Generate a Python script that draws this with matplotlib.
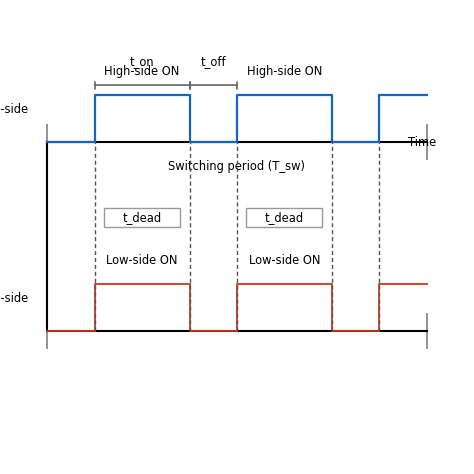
import numpy as np
import matplotlib
matplotlib.use("Agg")
import matplotlib.pyplot as plt
from matplotlib.patches import Rectangle

# switching instants (time units) and signal levels
edges = [0, 1, 3, 4, 6, 7, 8]
states = [0, 1, 0, 1, 0, 1]          # state in each interval
hs_base, hs_high = 4, 5               # high-side trace levels
ls_base, ls_high = 0, 1               # low-side trace levels
dashed_t = [1, 3, 4, 6, 7]
dead_centers = [2, 5]
on_centers = [2, 5]

hs_color = '#1565C0'
ls_color = '#C8371C'
fs = 8.3

fig = plt.figure(figsize=(4.74, 4.74), dpi=100)
ax = fig.add_axes([0, 0, 1, 1])
ax.set_xlim(-0.99, 8.99)
ax.set_ylim(-3.03, 7.0)
ax.axis('off')

t0, t1 = edges[0], edges[-1]

# gray end bars of the two time axes
for lev in [hs_base, ls_base]:
    ax.vlines([t0, t1], lev - 0.38, lev + 0.38, color='gray', lw=1.2, zorder=1)

# black axes
ax.plot([t0, t1], [hs_base, hs_base], color='black', lw=1.5, zorder=2)
ax.plot([t0, t1], [ls_base, ls_base], color='black', lw=1.5, zorder=2)
ax.plot([t0, t0], [ls_base, hs_base], color='black', lw=1.5, zorder=2)

# step signals
xs, hs, ls = [], [], []
for i, s in enumerate(states):
    xs += [edges[i], edges[i + 1]]
    hs += [hs_high if s else hs_base] * 2
    ls += [ls_high if s else ls_base] * 2
ax.plot(xs, hs, color=hs_color, lw=1.6, zorder=3)
ax.plot(xs, ls, color=ls_color, lw=1.3, zorder=3)

# dashed switching markers
ax.vlines(dashed_t, ls_base, hs_base, color='#555555', lw=1.0,
          linestyles=(0, (3, 2)), zorder=4)

# t_on / t_off dimension lines
dim_y = 5.2
for a, b in [(1, 3), (3, 4)]:
    ax.annotate('', xy=(b, dim_y), xytext=(a, dim_y),
                arrowprops=dict(arrowstyle='|-|,widthA=0.25,widthB=0.25',
                                color='#666666', lw=1.2, shrinkA=0, shrinkB=0))
ax.text(2, 5.69, 't_on', ha='center', va='center', fontsize=fs)
ax.text(3.5, 5.69, 't_off', ha='center', va='center', fontsize=fs)

for c in on_centers:
    ax.text(c, 5.48, 'High-side ON', ha='center', va='center', fontsize=fs)
    ax.text(c, 1.48, 'Low-side ON', ha='center', va='center', fontsize=fs)

for c in dead_centers:
    ax.add_patch(Rectangle((c - 0.8, 2.2), 1.6, 0.4, facecolor='white',
                           edgecolor='#999999', lw=1.0, zorder=5))
    ax.text(c, 2.4, 't_dead', ha='center', va='center', fontsize=fs, zorder=6)

ax.text(4, 3.47, 'Switching period (T_sw)', ha='center', va='center', fontsize=fs)
ax.text(7.9, 3.98, 'Time', ha='center', va='center', fontsize=fs, zorder=6)

ax.text(-0.38, hs_base + 0.68, 'High-side', ha='right', va='center', fontsize=fs)
ax.text(-0.38, ls_base + 0.68, 'Low-side', ha='right', va='center', fontsize=fs)

fig.savefig('out.png', dpi=100)
